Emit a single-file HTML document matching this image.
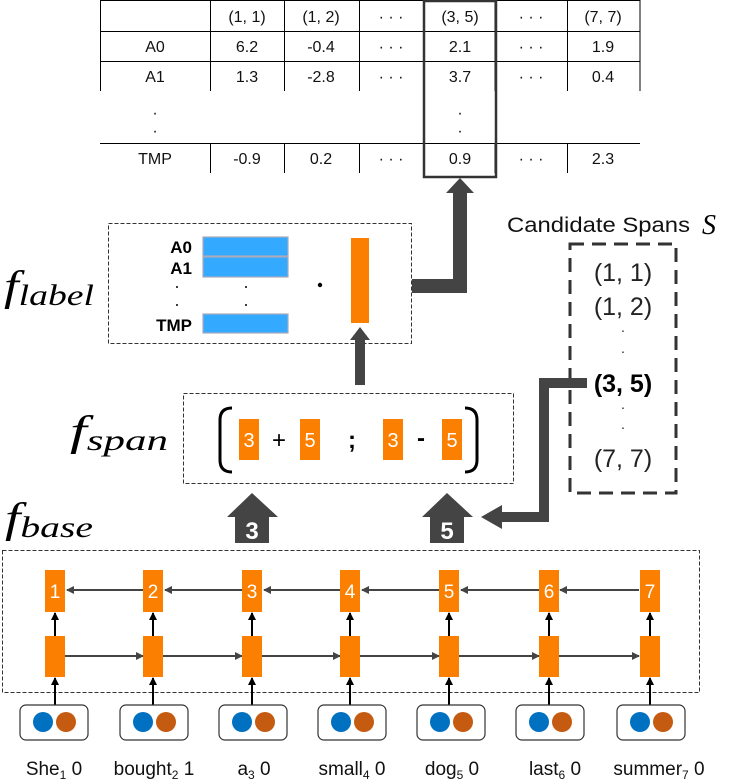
<!DOCTYPE html>
<html><head><meta charset="utf-8"><style>
body{margin:0;background:#fff}
svg{display:block}
text{font-family:"Liberation Sans",sans-serif}
.s{font-family:"Liberation Serif",serif;font-style:italic}
</style></head><body>
<svg width="732" height="782" viewBox="0 0 732 782" xmlns="http://www.w3.org/2000/svg">
<defs>
<marker id="ah" markerWidth="8" markerHeight="8" refX="7" refY="4" orient="auto" markerUnits="userSpaceOnUse"><path d="M0,0 L8,4 L0,8 z" fill="#444"/></marker>
<marker id="ab" markerWidth="8" markerHeight="8" refX="7" refY="4" orient="auto" markerUnits="userSpaceOnUse"><path d="M0,0 L8,4 L0,8 z" fill="#000"/></marker>
</defs>
<g stroke="#000" stroke-width="1" fill="none">
<line x1="100" y1="0.5" x2="640" y2="0.5"/>
<line x1="100" y1="31.5" x2="640" y2="31.5"/>
<line x1="100" y1="61.5" x2="640" y2="61.5"/>
<line x1="100" y1="143.5" x2="640" y2="143.5"/>
<path d="M100.5 0V91M210.5 0V91M284.5 0V91M359.5 0V91M424 0V91M495 0V91M567.5 0V91M640 0V91"/>
<path d="M210.5 143V173M284.5 143V173M359.5 143V173M495 143V173M567.5 143V173"/>
</g>
<rect x="424" y="1" width="72" height="176" fill="none" stroke="#333" stroke-width="2.5"/>
<g font-size="16" text-anchor="middle" fill="#111">
<text x="247" y="22">(1, 1)</text><text x="321" y="22">(1, 2)</text><text x="391" y="22">· · ·</text><text x="460" y="22">(3, 5)</text><text x="531" y="22">· · ·</text><text x="603" y="22">(7, 7)</text>
<text x="155" y="52">A0</text><text x="247" y="52">6.2</text><text x="321" y="52">-0.4</text><text x="391" y="52">· · ·</text><text x="460" y="52">2.1</text><text x="531" y="52">· · ·</text><text x="603" y="52">1.9</text>
<text x="155" y="82">A1</text><text x="247" y="82">1.3</text><text x="321" y="82">-2.8</text><text x="391" y="82">· · ·</text><text x="460" y="82">3.7</text><text x="531" y="82">· · ·</text><text x="603" y="82">0.4</text>
<text x="155" y="118">·</text><text x="155" y="136">·</text><text x="460" y="118">·</text><text x="460" y="136">·</text>
<text x="155" y="164">TMP</text><text x="247" y="164">-0.9</text><text x="321" y="164">0.2</text><text x="391" y="164">· · ·</text><text x="460" y="164">0.9</text><text x="531" y="164">· · ·</text><text x="603" y="164">2.3</text>
</g>
<path d="M412 279H453V193H446L460 178L474 193H467V293H412Z" fill="#444"/>
<rect x="108.5" y="223.5" width="303" height="120" fill="none" stroke="#333" stroke-dasharray="4,2"/>
<text class="s" x="4" y="300" font-size="42" textLength="90" lengthAdjust="spacingAndGlyphs">f<tspan font-size="30" dy="5">label</tspan></text>
<g font-size="17" font-weight="bold" text-anchor="end" fill="#000">
<text x="192" y="253">A0</text><text x="192" y="274">A1</text><text x="192" y="331">TMP</text>
</g>
<g fill="#33aaff" stroke="#aab" stroke-width="1.2">
<rect x="203" y="237" width="85" height="19"/><rect x="203" y="257" width="85" height="20"/><rect x="203" y="314" width="85" height="19"/>
</g>
<g fill="#000"><circle cx="177" cy="287" r="1"/><circle cx="177" cy="305" r="1"/><circle cx="246" cy="287" r="1"/><circle cx="246" cy="305" r="1"/><circle cx="320" cy="285" r="2.2"/></g>
<rect x="351" y="238" width="18" height="85" fill="#fb7f00"/>
<path d="M355 385V340H350L360 327L370 340H365V385Z" fill="#444"/>
<text x="507" y="232" font-size="21" fill="#111" textLength="183" lengthAdjust="spacingAndGlyphs">Candidate Spans</text>
<text class="s" x="702" y="234" font-size="28">S</text>
<rect x="570" y="244" width="106" height="249" fill="none" stroke="#333" stroke-width="3" stroke-dasharray="14,8"/>
<g font-size="25" text-anchor="middle" fill="#222" font-family="Liberation Sans">
<text x="623" y="281">(1, 1)</text><text x="623" y="315">(1, 2)</text>
<text x="623" y="335" font-size="14">·</text><text x="623" y="356" font-size="14">·</text>
<text x="623" y="392" font-weight="bold" fill="#000">(3, 5)</text>
<text x="623" y="412" font-size="14">·</text><text x="623" y="432" font-size="14">·</text>
<text x="623" y="467">(7, 7)</text>
</g>
<path d="M587 378V388H549V522H502V529L481 517L502 505V512H539V378Z" fill="#444"/>
<rect x="183.5" y="393.5" width="330" height="90" fill="none" stroke="#333" stroke-dasharray="4,2"/>
<text class="s" x="70" y="445" font-size="42" textLength="98" lengthAdjust="spacingAndGlyphs">f<tspan font-size="30" dy="5">span</tspan></text>
<path d="M232 408Q220 408 220 420V460Q220 472 232 472" fill="none" stroke="#000" stroke-width="3"/>
<path d="M465 408Q477 408 477 420V460Q477 472 465 472" fill="none" stroke="#000" stroke-width="3"/>
<g fill="#fb7f00"><rect x="239" y="419" width="20" height="41"/><rect x="300" y="419" width="20" height="41"/><rect x="383" y="419" width="20" height="41"/><rect x="442" y="419" width="20" height="41"/></g>
<g font-size="20" fill="#fff" text-anchor="middle"><text x="249" y="447">3</text><text x="310" y="447">5</text><text x="393" y="447">3</text><text x="452" y="447">5</text></g>
<g font-size="24" fill="#000" text-anchor="middle"><text x="279" y="448">+</text><text x="352" y="448" font-weight="bold">;</text><text x="421" y="446" font-weight="bold">-</text></g>
<path d="M235 543V517H227L252 493L278 517H269V543Z" fill="#444"/>
<path d="M430 543V517H422L447 493L473 517H464V543Z" fill="#444"/>
<g font-size="24" font-weight="bold" fill="#fff" text-anchor="middle"><text x="252" y="539">3</text><text x="447" y="539">5</text></g>
<text class="s" x="5" y="532" font-size="42" textLength="88" lengthAdjust="spacingAndGlyphs">f<tspan font-size="30" dy="5">base</tspan></text>
<rect x="2.5" y="550.5" width="697" height="142" fill="none" stroke="#333" stroke-dasharray="4,2"/>
<g stroke="#444" stroke-width="2">
<line x1="143" y1="590" x2="67" y2="590" marker-end="url(#ah)"/>
<line x1="242" y1="590" x2="165" y2="590" marker-end="url(#ah)"/>
<line x1="340" y1="590" x2="264" y2="590" marker-end="url(#ah)"/>
<line x1="439" y1="590" x2="362" y2="590" marker-end="url(#ah)"/>
<line x1="539" y1="590" x2="461" y2="590" marker-end="url(#ah)"/>
<line x1="639" y1="590" x2="560" y2="590" marker-end="url(#ah)"/>
<line x1="65" y1="656" x2="143" y2="656" marker-end="url(#ah)"/>
<line x1="163" y1="656" x2="242" y2="656" marker-end="url(#ah)"/>
<line x1="262" y1="656" x2="340" y2="656" marker-end="url(#ah)"/>
<line x1="360" y1="656" x2="439" y2="656" marker-end="url(#ah)"/>
<line x1="459" y1="656" x2="539" y2="656" marker-end="url(#ah)"/>
<line x1="558" y1="656" x2="639" y2="656" marker-end="url(#ah)"/>
</g>
<g fill="#fb7f00">
<rect x="45" y="570" width="20" height="42"/><rect x="143" y="570" width="20" height="42"/><rect x="242" y="570" width="20" height="42"/><rect x="340" y="570" width="20" height="42"/><rect x="439" y="570" width="20" height="42"/><rect x="539" y="570" width="20" height="42"/><rect x="640" y="570" width="20" height="42"/>
<rect x="45" y="636" width="20" height="41"/><rect x="143" y="636" width="20" height="41"/><rect x="242" y="636" width="20" height="41"/><rect x="340" y="636" width="20" height="41"/><rect x="439" y="636" width="20" height="41"/><rect x="539" y="636" width="20" height="41"/><rect x="640" y="636" width="20" height="41"/>
</g>
<g font-size="19" fill="#fff" text-anchor="middle">
<text x="55" y="598">1</text><text x="153" y="598">2</text><text x="252" y="598">3</text><text x="350" y="598">4</text><text x="449" y="598">5</text><text x="549" y="598">6</text><text x="650" y="598">7</text>
</g>
<g stroke="#000" stroke-width="2">
<line x1="55" y1="636" x2="55" y2="613" marker-end="url(#ab)"/><line x1="153" y1="636" x2="153" y2="613" marker-end="url(#ab)"/><line x1="252" y1="636" x2="252" y2="613" marker-end="url(#ab)"/><line x1="350" y1="636" x2="350" y2="613" marker-end="url(#ab)"/><line x1="449" y1="636" x2="449" y2="613" marker-end="url(#ab)"/><line x1="549" y1="636" x2="549" y2="613" marker-end="url(#ab)"/><line x1="650" y1="636" x2="650" y2="613" marker-end="url(#ab)"/>
<line x1="55" y1="705" x2="55" y2="678" marker-end="url(#ab)"/><line x1="153" y1="705" x2="153" y2="678" marker-end="url(#ab)"/><line x1="252" y1="705" x2="252" y2="678" marker-end="url(#ab)"/><line x1="350" y1="705" x2="350" y2="678" marker-end="url(#ab)"/><line x1="449" y1="705" x2="449" y2="678" marker-end="url(#ab)"/><line x1="549" y1="705" x2="549" y2="678" marker-end="url(#ab)"/><line x1="650" y1="705" x2="650" y2="678" marker-end="url(#ab)"/>
</g>
<g stroke="#333" stroke-width="1.2" fill="#fff">
<rect x="20" y="705" width="68" height="35" rx="6"/><rect x="120" y="705" width="68" height="35" rx="6"/><rect x="219" y="705" width="68" height="35" rx="6"/><rect x="318" y="705" width="68" height="35" rx="6"/><rect x="417" y="705" width="68" height="35" rx="6"/><rect x="516" y="705" width="68" height="35" rx="6"/><rect x="617" y="705" width="68" height="35" rx="6"/>
</g>
<g fill="#0070c0">
<circle cx="43" cy="722" r="10"/><circle cx="143" cy="722" r="10"/><circle cx="242" cy="722" r="10"/><circle cx="341" cy="722" r="10"/><circle cx="440" cy="722" r="10"/><circle cx="539" cy="722" r="10"/><circle cx="640" cy="722" r="10"/>
</g>
<g fill="#c55a11">
<circle cx="66" cy="722" r="10"/><circle cx="166" cy="722" r="10"/><circle cx="265" cy="722" r="10"/><circle cx="364" cy="722" r="10"/><circle cx="463" cy="722" r="10"/><circle cx="562" cy="722" r="10"/><circle cx="663" cy="722" r="10"/>
</g>
<g font-size="19" fill="#111" text-anchor="middle">
<text x="54" y="775">She<tspan font-size="12" dy="4">1</tspan><tspan dy="-4"> 0</tspan></text>
<text x="154" y="775">bought<tspan font-size="12" dy="4">2</tspan><tspan dy="-4"> 1</tspan></text>
<text x="254" y="775">a<tspan font-size="12" dy="4">3</tspan><tspan dy="-4">  0</tspan></text>
<text x="352" y="775">small<tspan font-size="12" dy="4">4</tspan><tspan dy="-4"> 0</tspan></text>
<text x="452" y="775">dog<tspan font-size="12" dy="4">5</tspan><tspan dy="-4"> 0</tspan></text>
<text x="555" y="775">last<tspan font-size="12" dy="4">6</tspan><tspan dy="-4"> 0</tspan></text>
<text x="659" y="775">summer<tspan font-size="12" dy="4">7</tspan><tspan dy="-4"> 0</tspan></text>
</g>
</svg>
</body></html>
